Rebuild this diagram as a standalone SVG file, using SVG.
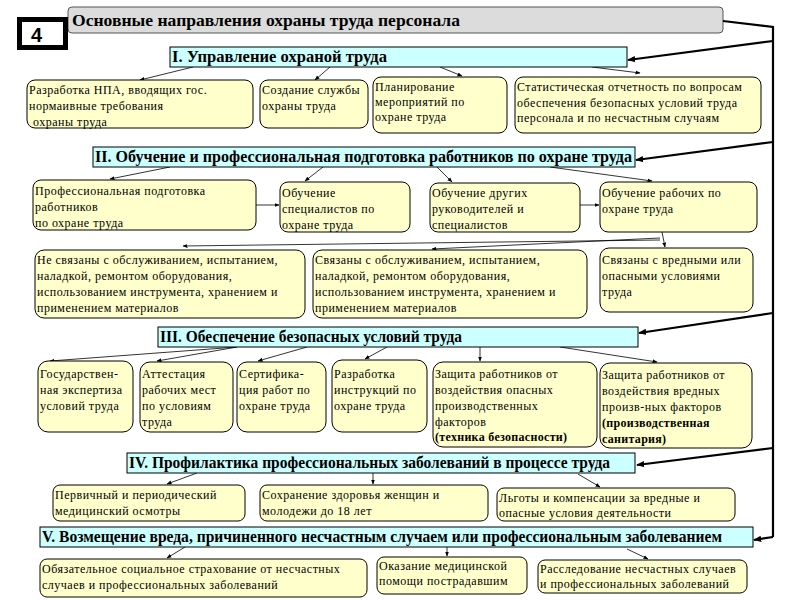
<svg xmlns="http://www.w3.org/2000/svg" width="800" height="600" viewBox="0 0 800 600">
<defs>
<marker id="ah" viewBox="0 0 10 10" refX="9" refY="5" markerWidth="5" markerHeight="5" markerUnits="userSpaceOnUse" orient="auto"><path d="M0,1 L10,5 L0,9 z" fill="#000"/></marker>
<marker id="ahb" viewBox="0 0 10 10" refX="9" refY="5" markerWidth="8" markerHeight="8" markerUnits="userSpaceOnUse" orient="auto"><path d="M0,1 L10,5 L0,9 z" fill="#000"/></marker>
<style>
.box{fill:#ffffcc;stroke:#000;stroke-width:1}
.sec{fill:#ccffff;stroke:#000;stroke-width:1}
.t{font-family:"Liberation Serif","DejaVu Serif","Times New Roman",serif;font-size:12px;letter-spacing:0.5px;fill:#000}
.b{font-weight:bold;letter-spacing:0.3px}
.h{font-family:"Liberation Serif","DejaVu Serif","Times New Roman",serif;font-size:16.5px;font-weight:bold;fill:#000}
.c{stroke:#000;stroke-width:0.8;fill:none;marker-end:url(#ah)}
.cb{stroke:#000;stroke-width:2.2;fill:none;marker-end:url(#ahb)}
</style>
</defs>
<rect width="800" height="600" fill="#fff"/>

<g id="title">
<rect x="68" y="7" width="655" height="26" rx="4" fill="#dcdcdc" stroke="#555" stroke-width="1"/>
<text class="h" x="72" y="26" textLength="388" lengthAdjust="spacingAndGlyphs">Основные направления охраны труда персонала</text>
</g>
<g id="num">
<rect x="19.5" y="19.5" width="46" height="28" fill="#fff" stroke="#000" stroke-width="5"/>
<text x="31" y="42" font-family="'Liberation Sans',Arial,sans-serif" font-size="20" font-weight="bold">4</text>
</g>

<g id="connectors">
<polyline points="723,21 773,27 773,537" stroke="#000" stroke-width="2.2" fill="none"/>
<line class="cb" x1="773" y1="41" x2="628" y2="60"/>
<line class="cb" x1="773" y1="142" x2="636" y2="160"/>
<line class="cb" x1="773" y1="313" x2="639" y2="333"/>
<line class="cb" x1="773" y1="448" x2="637" y2="465"/>
<line class="cb" x1="773" y1="537" x2="754" y2="540"/>

<line class="c" x1="193" y1="67" x2="140" y2="80"/>
<line class="c" x1="330" y1="67" x2="315" y2="80"/>
<line class="c" x1="440" y1="67" x2="462" y2="76"/>
<line class="c" x1="592" y1="67" x2="640" y2="73"/>

<line class="c" x1="170" y1="167" x2="110" y2="179"/>
<line class="c" x1="323" y1="167" x2="305" y2="181"/>
<line class="c" x1="437" y1="167" x2="452" y2="182"/>
<line class="c" x1="550" y1="167" x2="652" y2="181"/>
<line class="c" x1="256" y1="205" x2="279" y2="205"/>
<line class="c" x1="580" y1="205" x2="599" y2="205"/>
<line class="c" x1="660" y1="240" x2="183" y2="246"/>
<line class="c" x1="660" y1="238" x2="432" y2="249"/>
<line class="c" x1="662" y1="232" x2="665" y2="247"/>

<line class="c" x1="237" y1="347" x2="50" y2="361"/>
<line class="c" x1="237" y1="347" x2="157" y2="361"/>
<line class="c" x1="307" y1="347" x2="258" y2="361"/>
<line class="c" x1="387" y1="347" x2="365" y2="359"/>
<line class="c" x1="480" y1="347" x2="480" y2="361"/>
<line class="c" x1="560" y1="347" x2="657" y2="362"/>

<line class="c" x1="197" y1="473" x2="167" y2="484"/>
<line class="c" x1="373" y1="473" x2="373" y2="484"/>
<line class="c" x1="578" y1="474" x2="600" y2="487"/>

<line class="c" x1="185" y1="547" x2="167" y2="558"/>
<line class="c" x1="447" y1="547" x2="447" y2="556"/>
<line class="c" x1="627" y1="549" x2="648" y2="559"/>
</g>

<g id="sec1">
<rect class="sec" x="170" y="47" width="457" height="20"/>
<text class="h" x="172" y="62" textLength="215" lengthAdjust="spacingAndGlyphs">I. Управление охраной труда</text>
</g>
<g id="b1"><rect class="box" x="27" y="80" width="226" height="48" rx="8"/>
<text class="t" x="29" y="94">Разработка НПА, вводящих гос.</text>
<text class="t" x="29" y="110">нормаивные требования</text>
<text class="t" x="33" y="126">охраны труда</text></g>
<g id="b2"><rect class="box" x="260" y="80" width="108" height="48" rx="8"/>
<text class="t" x="262" y="94">Создание службы</text>
<text class="t" x="262" y="110">охраны труда</text></g>
<g id="b3"><rect class="box" x="373" y="77" width="134" height="56" rx="8"/>
<text class="t" x="375" y="91">Планирование</text>
<text class="t" x="375" y="106">мероприятий по</text>
<text class="t" x="375" y="121">охране труда</text></g>
<g id="b4"><rect class="box" x="515" y="77" width="246" height="56" rx="8"/>
<text class="t" x="517" y="91">Статистическая отчетность по вопросам</text>
<text class="t" x="517" y="107">обеспечения безопасных условий  труда</text>
<text class="t" x="517" y="122">персонала и по несчастным случаям</text></g>

<g id="sec2">
<rect class="sec" x="93" y="147" width="542" height="20"/>
<text class="h" x="95" y="162" textLength="537" lengthAdjust="spacingAndGlyphs">II. Обучение и профессиональная подготовка работников по охране труда</text>
</g>
<g id="c1"><rect class="box" x="33" y="180" width="223" height="50" rx="8"/>
<text class="t" x="35" y="195">Профессиональная подготовка</text>
<text class="t" x="35" y="211">работников</text>
<text class="t" x="35" y="227">по охране труда</text></g>
<g id="c2"><rect class="box" x="280" y="182" width="130" height="50" rx="8"/>
<text class="t" x="282" y="197">Обучение</text>
<text class="t" x="282" y="213">специалистов по</text>
<text class="t" x="282" y="229">охране труда</text></g>
<g id="c3"><rect class="box" x="430" y="183" width="150" height="49" rx="8"/>
<text class="t" x="432" y="197">Обучение других</text>
<text class="t" x="432" y="213">руководителей и</text>
<text class="t" x="432" y="229">специалистов</text></g>
<g id="c4"><rect class="box" x="600" y="182" width="157" height="50" rx="8"/>
<text class="t" x="602" y="197">Обучение рабочих  по</text>
<text class="t" x="602" y="213">охране труда</text></g>
<g id="d1"><rect class="box" x="35" y="250" width="270" height="68" rx="9"/>
<text class="t" x="37" y="264">Не связаны с обслуживанием, испытанием,</text>
<text class="t" x="37" y="280">наладкой, ремонтом оборудования,</text>
<text class="t" x="37" y="296">использованием инструмента, хранением и</text>
<text class="t" x="37" y="312">применением материалов</text></g>
<g id="d2"><rect class="box" x="313" y="250" width="274" height="68" rx="9"/>
<text class="t" x="315" y="264">Связаны с  обслуживанием, испытанием,</text>
<text class="t" x="315" y="280">наладкой, ремонтом оборудования,</text>
<text class="t" x="315" y="296">использованием инструмента, хранением и</text>
<text class="t" x="315" y="312">применением материалов</text></g>
<g id="d3"><rect class="box" x="600" y="248" width="153" height="64" rx="9"/>
<text class="t" x="602" y="264">Связаны с вредными или</text>
<text class="t" x="602" y="280">опасными условиями</text>
<text class="t" x="602" y="296">труда</text></g>

<g id="sec3">
<rect class="sec" x="158" y="327" width="480" height="20"/>
<text class="h" x="160" y="342" textLength="302" lengthAdjust="spacingAndGlyphs">III. Обеспечение безопасных условий труда</text>
</g>
<g id="e1"><rect class="box" x="38" y="361" width="95" height="71" rx="10"/>
<text class="t" x="40" y="378">Государствен-</text>
<text class="t" x="40" y="394">ная экспертиза</text>
<text class="t" x="40" y="410">условий труда</text></g>
<g id="e2"><rect class="box" x="140" y="362" width="93" height="70" rx="10"/>
<text class="t" x="142" y="378">Аттестация</text>
<text class="t" x="142" y="394">рабочих  мест</text>
<text class="t" x="142" y="410">по условиям</text>
<text class="t" x="142" y="426">труда</text></g>
<g id="e3"><rect class="box" x="237" y="362" width="89" height="70" rx="10"/>
<text class="t" x="239" y="378">Сертифика-</text>
<text class="t" x="239" y="394">ция работ по</text>
<text class="t" x="239" y="410">охране труда</text></g>
<g id="e4"><rect class="box" x="332" y="360" width="95" height="72" rx="10"/>
<text class="t" x="334" y="378">Разработка</text>
<text class="t" x="334" y="394">инструкций по</text>
<text class="t" x="334" y="410">охране труда</text></g>
<g id="e5"><rect class="box" x="433" y="362" width="164" height="85" rx="10"/>
<text class="t" x="435" y="378">Защита работников от</text>
<text class="t" x="435" y="394">воздействия  опасных</text>
<text class="t" x="435" y="410">производственных</text>
<text class="t" x="435" y="426">факторов</text>
<text class="t b" x="435" y="441">(техника безопасности)</text></g>
<g id="e6"><rect class="box" x="600" y="363" width="152" height="85" rx="10"/>
<text class="t" x="602" y="379">Защита работников от</text>
<text class="t" x="602" y="395">воздействия  вредных</text>
<text class="t" x="602" y="411">произв-ных  факторов</text>
<text class="t b" x="602" y="427">(производственная</text>
<text class="t b" x="602" y="443">санитария)</text></g>

<g id="sec4">
<rect class="sec" x="127" y="453" width="508" height="20"/>
<text class="h" x="129" y="468" textLength="481" lengthAdjust="spacingAndGlyphs">IV. Профилактика профессиональных заболеваний в процессе труда</text>
</g>
<g id="f1"><rect class="box" x="53" y="485" width="192" height="36" rx="7"/>
<text class="t" x="55" y="499">Первичный и периодический</text>
<text class="t" x="55" y="515">медицинский осмотры</text></g>
<g id="f2"><rect class="box" x="260" y="485" width="228" height="36" rx="7"/>
<text class="t" x="262" y="499">Сохранение здоровья женщин и</text>
<text class="t" x="262" y="515">молодежи до 18 лет</text></g>
<g id="f3"><rect class="box" x="497" y="488" width="238" height="33" rx="7"/>
<text class="t" x="499" y="502">Льготы и компенсации за вредные и</text>
<text class="t" x="499" y="517">опасные условия деятельности</text></g>

<g id="sec5">
<rect class="sec" x="40" y="527" width="713" height="20"/>
<text class="h" x="42" y="542" textLength="680" lengthAdjust="spacingAndGlyphs">V. Возмещение вреда, причиненного несчастным случаем или профессиональным заболеванием</text>
</g>
<g id="g1"><rect class="box" x="40" y="559" width="327" height="38" rx="7"/>
<text class="t" x="42" y="573">Обязательное социальное страхование от несчастных</text>
<text class="t" x="42" y="589">случаев и профессиональных заболеваний</text></g>
<g id="g2"><rect class="box" x="377" y="557" width="150" height="37" rx="7"/>
<text class="t" x="379" y="570">Оказание медицинской</text>
<text class="t" x="379" y="585">помощи пострадавшим</text></g>
<g id="g3"><rect class="box" x="538" y="560" width="209" height="33" rx="7"/>
<text class="t" x="540" y="573">Расследование несчастных случаев</text>
<text class="t" x="540" y="588">и профессиональных заболеваний</text></g>
</svg>
